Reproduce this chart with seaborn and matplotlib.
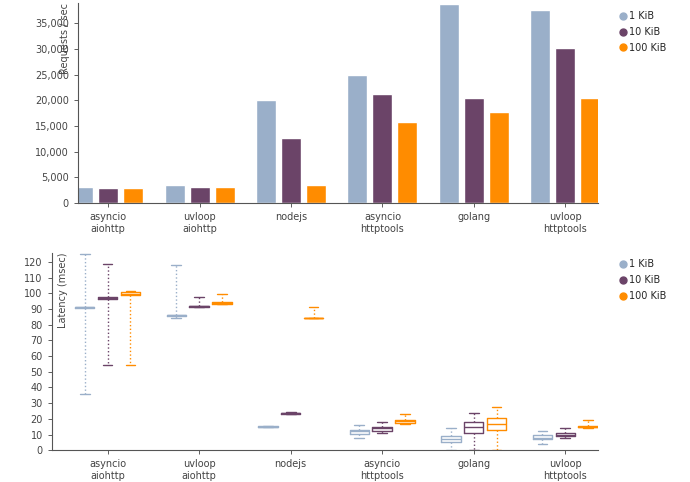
import numpy as np
import pandas as pd
import matplotlib
matplotlib.use("Agg")
import matplotlib.pyplot as plt
import seaborn as sns
from matplotlib.lines import Line2D

servers = ["asyncio\naiohttp", "uvloop\naiohttp", "nodejs", "asyncio\nhttptools", "golang", "uvloop\nhttptools"]
sizes = ["1 KiB", "10 KiB", "100 KiB"]
colors = ["#9AAFC9", "#6B4468", "#FF8C00"]

# requests/sec per server, per payload size
rps_1k = [3200, 3400, 20100, 24900, 38800, 37600]
rps_10k = [3000, 3200, 12700, 21300, 20500, 30300]
rps_100k = [2900, 3100, 3500, 15800, 17700, 20400]

# latency five-number summaries: min, q1, median, q3, max (msec)
lat_1k = [[36, 90.5, 91, 91, 125], [84.5, 85.5, 86, 86.5, 118], [14.5, 14.8, 15, 15.2, 15.5],
          [8, 10.5, 12, 13, 16], [0, 5.5, 7, 9, 14], [4, 7, 8, 10, 12]]
lat_10k = [[54.5, 96.5, 97, 97.5, 118.5], [91, 91.5, 92, 92, 97.5], [23, 23.3, 23.5, 24, 24.3],
           [11, 12, 14, 14.5, 18], [0, 11, 15, 18, 23.5], [7.5, 9, 9.5, 11, 14]]
lat_100k = [[54.5, 99, 99.5, 101, 101.5], [93, 93.5, 94, 94.5, 99.5], [84, 84, 84.2, 84.5, 91.5],
            [17, 17.5, 18.5, 19.5, 23], [0, 13, 17, 20.5, 27.5], [14, 14.5, 15, 15.5, 19]]

rps = pd.DataFrame({
    "server": servers * 3,
    "size": [s for s in sizes for _ in servers],
    "rps": rps_1k + rps_10k + rps_100k,
})
rows = []
for size, lat in zip(sizes, [lat_1k, lat_10k, lat_100k]):
    for srv, summary in zip(servers, lat):
        for v in summary:
            rows.append({"server": srv, "size": size, "lat": v})
lat_df = pd.DataFrame(rows)

sns.set_style("white")
plt.rcParams["font.family"] = "DejaVu Sans"
fig = plt.figure(figsize=(6.9, 4.82), dpi=100)
ax1 = fig.add_axes([0.113, 0.579, 0.754, 0.415])
ax2 = fig.add_axes([0.075, 0.066, 0.792, 0.41])

pal = dict(zip(sizes, colors))
sns.barplot(data=rps, x="server", y="rps", hue="size", palette=pal, width=0.82, gap=0.2,
            ax=ax1, legend=False, saturation=1)
ax1.set_ylim(0, 39000)
ax1.set_xlim(-0.33, 5.36)
ax1.set_yticks(range(0, 40000, 5000))
ax1.set_yticklabels([f"{v:,}" for v in range(0, 40000, 5000)])

sns.boxplot(data=lat_df, x="server", y="lat", hue="size", palette=pal, fill=False, whis=np.inf,
            width=0.75, gap=0.15, ax=ax2, legend=False, linewidth=1,
            whiskerprops={"linestyle": ":"})
ax2.set_ylim(0, 126)
ax2.set_xlim(-0.61, 5.36)
ax2.set_yticks(range(0, 121, 10))

for ax, lab, xoff in [(ax1, "Requests / sec", -0.035), (ax2, "Latency (msec)", 0.012)]:
    sns.despine(ax=ax)
    for s in ["left", "bottom"]:
        ax.spines[s].set_color("#555555")
        ax.spines[s].set_linewidth(0.8)
    ax.set_xlabel("")
    ax.set_ylabel("")
    ax.tick_params(axis="both", labelsize=7, colors="#444444", length=3, width=0.6, left=True, bottom=True)
    ax.text(xoff, 1.0, lab, transform=ax.transAxes, rotation=90, va="top", ha="left", fontsize=7, color="#444444")
    handles = [Line2D([], [], marker="o", linestyle="", color=c, markersize=5) for c in colors]
    ax.legend(handles, sizes, loc="upper left", bbox_to_anchor=(0.885, 0.98), bbox_transform=fig.transFigure if False else None,
              frameon=False, fontsize=7, handletextpad=0.1, borderaxespad=0, labelspacing=0.6, handlelength=1)

# place legends in figure coords
ax1.get_legend().set_bbox_to_anchor((0.89, 0.985), transform=fig.transFigure)
ax2.get_legend().set_bbox_to_anchor((0.89, 0.47), transform=fig.transFigure)

fig.savefig("out.png", dpi=100)
